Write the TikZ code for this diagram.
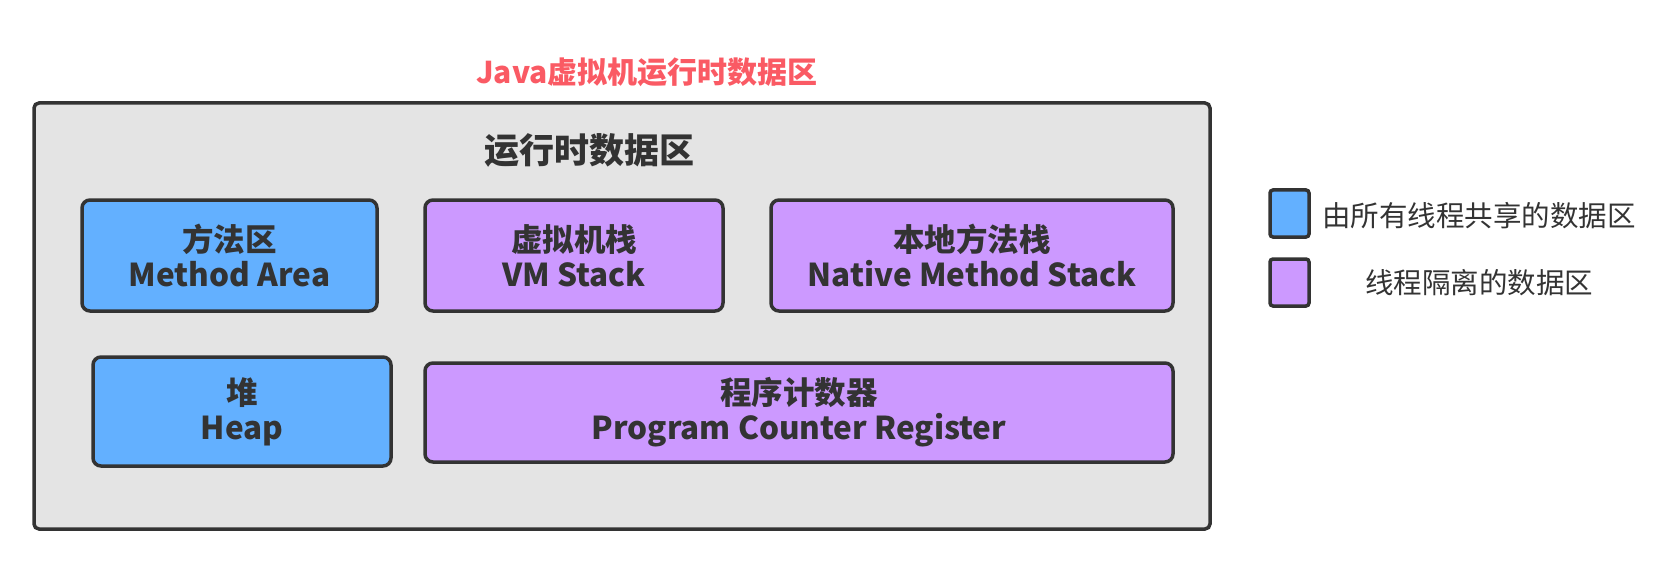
\documentclass[tikz,border=0pt]{standalone}
\usepackage{fontspec}
\setmainfont{Noto Sans CJK SC}
\definecolor{bordc}{HTML}{333333}
\definecolor{fillg}{HTML}{E4E4E4}
\definecolor{bluef}{HTML}{63B0FF}
\definecolor{purpf}{HTML}{CC99FF}
\definecolor{titler}{RGB}{250,90,100}
\definecolor{txtc}{HTML}{333333}
\tikzset{
  area/.style={draw=bordc, line width=3.5pt, rounded corners=8pt, inner sep=0pt, anchor=center,
    align=center, text=txtc, font=\fontsize{31.5}{35}\selectfont\bfseries},
  shared/.style={area, fill=bluef},
  private/.style={area, fill=purpf},
  legbox/.style={draw=bordc, line width=3.5pt, rounded corners=3pt, inner sep=0pt,
    minimum width=39pt, minimum height=47pt},
  legtext/.style={text=txtc, font=\fontsize{28.5}{32}\selectfont, inner sep=0pt}
}
\begin{document}
\begin{tikzpicture}[x=1pt,y=-1pt]
\useasboundingbox (0,0) rectangle (1658,567);
\node[draw=bordc, fill=fillg, line width=3.5pt, rounded corners=5pt, minimum width=1176pt, minimum height=426pt, inner sep=0pt] (outer) at (622,316) {};
\node[text=titler, font=\fontsize{30}{32}\selectfont\bfseries, inner sep=0pt] (title) at (647,72) {Java虚拟机运行时数据区};
\node[text=txtc, font=\fontsize{35}{38}\selectfont\bfseries, inner sep=0pt] (rt) at (589,150) {运行时数据区};
\node[shared, minimum width=295pt, minimum height=111pt] (ma) at (229.5,255.5) {方法区\\Method Area};
\node[private, minimum width=298pt, minimum height=111pt] (vm) at (574,255.5) {虚拟机栈\\VM Stack};
\node[private, minimum width=402pt, minimum height=111pt] (nms) at (972,255.5) {本地方法栈\\Native Method Stack};
\node[shared, minimum width=298pt, minimum height=109pt] (heap) at (242,411.5) {堆\\Heap};
\node[private, minimum width=748pt, minimum height=99pt] (pc) at (799,412.5) {程序计数器\\Program Counter Register};
\node[legbox, fill=bluef] (lb) at (1289.5,213.5) {};
\node[legbox, fill=purpf] (lp) at (1289.5,282.5) {};
\node[legtext] (lt1) at (1479,216) {由所有线程共享的数据区};
\node[legtext] (lt2) at (1479,283) {线程隔离的数据区};
\end{tikzpicture}
\end{document}
